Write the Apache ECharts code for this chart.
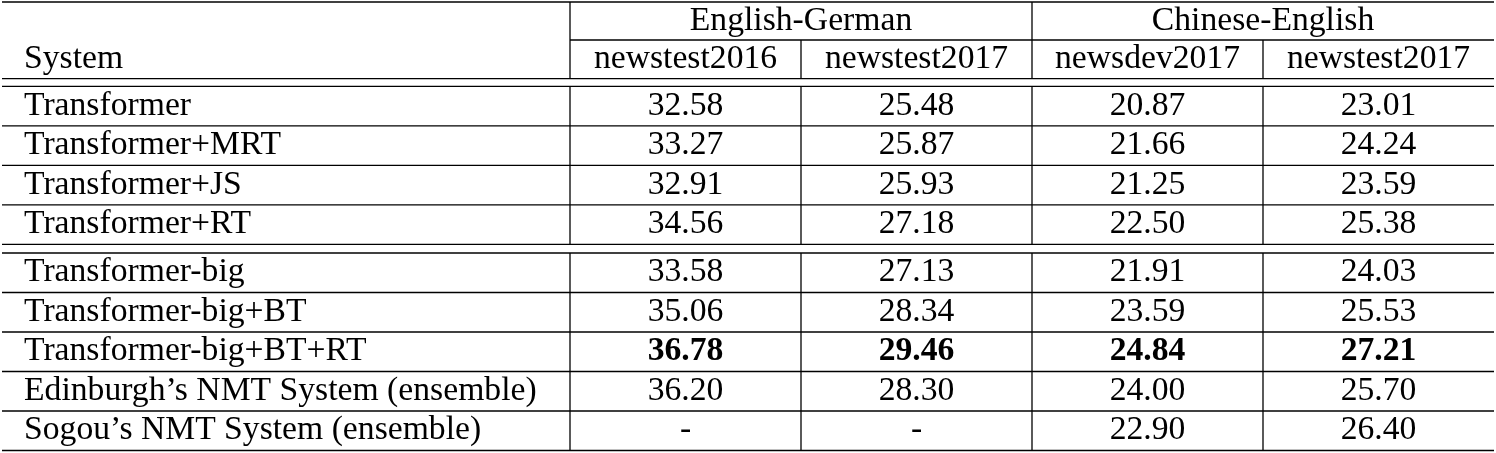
<!DOCTYPE html>
<html><head><meta charset="utf-8">
<script src="https://cdn.jsdelivr.net/npm/echarts@6/dist/echarts.min.js"></script>
<style>html,body{margin:0;padding:0;background:#fff}#c{width:1496px;height:453px}</style>
</head><body><div id="c"></div>
<script>
// ---------- data ----------
const headerLabel = 'System';
const systems = ['Transformer','Transformer+MRT','Transformer+JS','Transformer+RT',
  'Transformer-big','Transformer-big+BT','Transformer-big+BT+RT',
  'Edinburgh\u2019s NMT System (ensemble)','Sogou\u2019s NMT System (ensemble)'];
const languagePairs = ['English-German','Chinese-English'];
const testSets = ['newstest2016','newstest2017','newsdev2017','newstest2017'];
const enDeNewstest2016 = [32.58,33.27,32.91,34.56,33.58,35.06,36.78,36.20,null];
const enDeNewstest2017 = [25.48,25.87,25.93,27.18,27.13,28.34,29.46,28.30,null];
const zhEnNewsdev2017  = [20.87,21.66,21.25,22.50,21.91,23.59,24.84,24.00,22.90];
const zhEnNewstest2017 = [23.01,24.24,23.59,25.38,24.03,25.53,27.21,25.70,26.40];
const columns = [enDeNewstest2016, enDeNewstest2017, zhEnNewsdev2017, zhEnNewstest2017];
const groupSize = 4; // rows in the first block

// ---------- layout ----------
const W = 1496, H = 453;
const L = {
  left: 2, textLeft: 24, sysRight: 570, colW: 231,
  top: 2, head1: 40, head2: 78.7, gap: 7.6, rowH: 39.5, groupGap: 8.7,
  font: 'Liberation Serif', fontSize: 33, scaleX: 1.02, dy: 0, lw: 1.3
};
const bodyTop = L.head2 + L.gap;
function rowTop(i) {
  return i < groupSize ? bodyTop + i * L.rowH
    : bodyTop + groupSize * L.rowH + L.groupGap + (i - groupSize) * L.rowH;
}
const colX = j => L.sysRight + j * L.colW;
const tableRight = colX(columns.length);

// text cells
const texts = [];
function addText(x, y, t, align, bold) { texts.push({ value: [x, y], t, align, bold }); }
addText(L.textLeft, (L.head1 + L.head2) / 2 + L.dy, headerLabel, 'left', false);
languagePairs.forEach((p, k) => {
  addText((colX(k * 2) + colX(k * 2 + 2)) / 2, (L.top + L.head1) / 2 + L.dy, p, 'center', false);
});
testSets.forEach((s, j) => addText(colX(j) + L.colW / 2, (L.head1 + L.head2) / 2 + L.dy, s, 'center', false));
systems.forEach((s, i) => {
  const yc = rowTop(i) + L.rowH / 2 + L.dy;
  addText(L.textLeft, yc, s, 'left', false);
  columns.forEach((col, j) => {
    const v = col[i];
    const best = Math.max(...col.filter(x => x != null));
    addText(colX(j) + L.colW / 2, yc, v == null ? '-' : v.toFixed(2), 'center', v === best);
  });
});

// rules
const rules = [];
const hr = (y, x1, x2) => rules.push({ value: [x1, y, x2, y] });
const vr = (x, y1, y2) => rules.push({ value: [x, y1, x, y2] });
hr(L.top, L.left, tableRight);
hr(L.head1, L.sysRight, tableRight);
hr(L.head2, L.left, tableRight);
hr(bodyTop, L.left, tableRight);
for (let i = 0; i < systems.length; i++) {
  hr(rowTop(i) + L.rowH, L.left, tableRight);
  if (i === groupSize - 1) hr(rowTop(groupSize), L.left, tableRight);
}
const sections = [[bodyTop, rowTop(groupSize - 1) + L.rowH], [rowTop(groupSize), rowTop(systems.length - 1) + L.rowH]];
[0, 2].forEach(j => vr(colX(j), L.top, L.head2));
[1, 3].forEach(j => vr(colX(j), L.head1, L.head2));
[0, 1, 2, 3].forEach(j => sections.forEach(s => vr(colX(j), s[0], s[1])));

const chart = echarts.init(document.getElementById('c'), null, { renderer: 'canvas' });
chart.setOption({
  animation: false,
  grid: { left: 0, right: 0, top: 0, bottom: 0 },
  xAxis: { type: 'value', min: 0, max: W, show: false },
  yAxis: { type: 'value', min: 0, max: H, inverse: true, show: false },
  series: [
    {
      type: 'custom', data: rules, silent: true,
      renderItem: (params, api) => {
        const p1 = api.coord([api.value(0), api.value(1)]);
        const p2 = api.coord([api.value(2), api.value(3)]);
        return { type: 'line', shape: { x1: p1[0], y1: p1[1], x2: p2[0], y2: p2[1] },
          style: { stroke: '#000', lineWidth: L.lw } };
      }
    },
    {
      type: 'custom', data: texts, silent: true,
      renderItem: (params, api) => {
        const d = texts[params.dataIndex];
        const p = api.coord([api.value(0), api.value(1)]);
        return { type: 'text', x: p[0], y: p[1], scaleX: L.scaleX, scaleY: 1,
          style: { x: 0, y: 0, text: d.t, fill: '#000', fontFamily: L.font,
            fontSize: L.fontSize, fontWeight: d.bold ? 'bold' : 'normal',
            align: d.align, verticalAlign: 'middle' } };
      }
    }
  ]
});
</script></body></html>
